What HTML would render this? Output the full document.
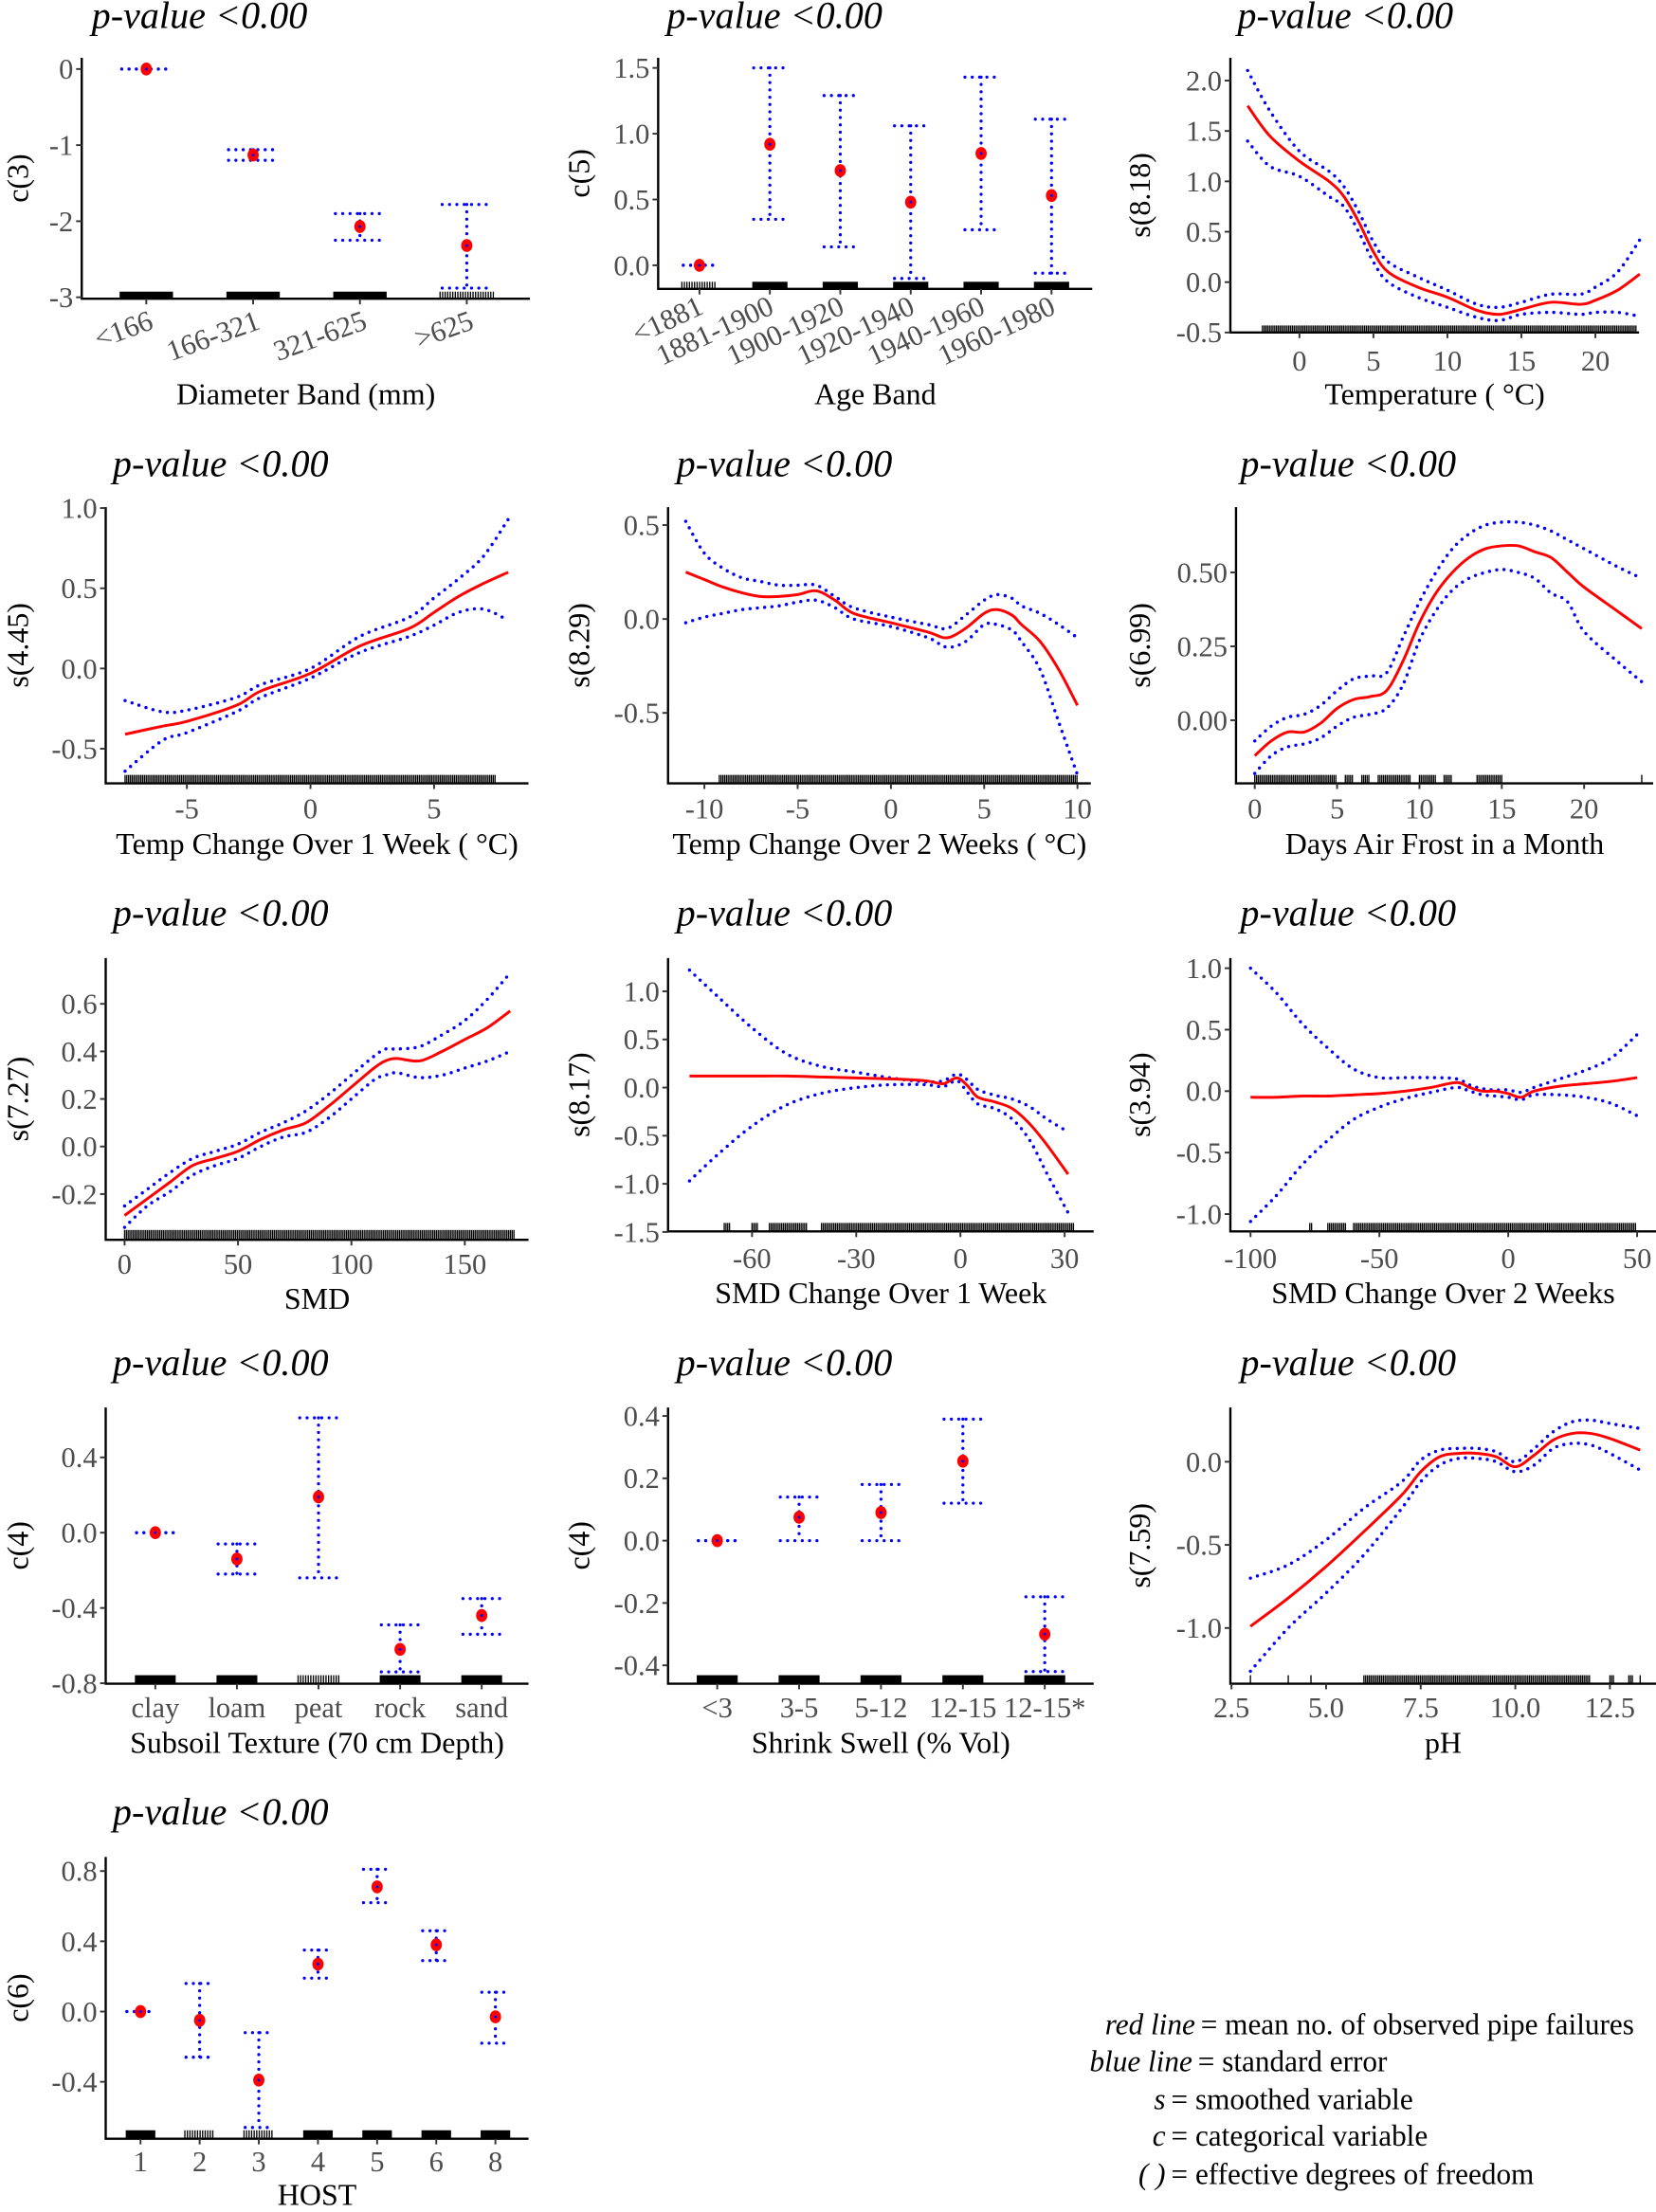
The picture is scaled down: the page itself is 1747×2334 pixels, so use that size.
<!DOCTYPE html>
<html><head><meta charset="utf-8"><style>
html,body{margin:0;padding:0;background:#fff}
svg{display:block}
svg text{font-family:"Liberation Serif","Times New Roman",serif}
</style></head>
<body>
<svg id="fig" xmlns="http://www.w3.org/2000/svg" width="1747" height="2334" viewBox="0 0 1175 1570" preserveAspectRatio="none" font-family="Liberation Serif, serif">
<g id="legend" font-size="21" fill="#000">
<text x="848" y="1444" text-anchor="end" font-style="italic">red line</text><text x="852" y="1444">= mean no. of observed pipe failures</text>
<text x="846" y="1470" text-anchor="end" font-style="italic">blue line</text><text x="850" y="1470">= standard error</text>
<text x="827" y="1497" text-anchor="end" font-style="italic">s</text><text x="831" y="1497">= smoothed variable</text>
<text x="827" y="1523" text-anchor="end" font-style="italic">c</text><text x="831" y="1523">= categorical variable</text>
<text x="827" y="1550" text-anchor="end" font-style="italic">( )</text><text x="831" y="1550">= effective degrees of freedom</text>
</g>
</svg>
<script>
// ---------- DATA ----------
const diamCats = ["<166","166-321","321-625",">625"];
const diamMean = [0,-1.13,-2.07,-2.32];
const diamUpper = [0,-1.06,-1.9,-1.78];
const diamLower = [0,-1.2,-2.25,-2.88];
const diamRug = ["block","block","block","lines"];

const ageCats = ["<1881","1881-1900","1900-1920","1920-1940","1940-1960","1960-1980"];
const ageMean = [0,0.92,0.72,0.48,0.85,0.53];
const ageUpper = [0,1.5,1.29,1.06,1.43,1.11];
const ageLower = [0,0.35,0.14,-0.1,0.27,-0.06];
const ageRug = ["lines","block","block","block","block","block"];

const tempX = [-3.5,-2,0,2,3,4,5,6,8,10,12,13.5,15,17,19,20,21.5,23];
const tempMean = [1.75,1.45,1.2,1.0,0.85,0.6,0.3,0.1,-0.05,-0.15,-0.28,-0.32,-0.27,-0.2,-0.22,-0.18,-0.08,0.08];
const tempUpper = [2.1,1.7,1.3,1.1,0.95,0.7,0.4,0.2,0.05,-0.08,-0.22,-0.25,-0.2,-0.12,-0.12,-0.05,0.1,0.42];
const tempLower = [1.4,1.15,1.05,0.85,0.75,0.5,0.2,0.0,-0.15,-0.25,-0.35,-0.38,-0.32,-0.3,-0.32,-0.3,-0.3,-0.34];
const tempRug = [[-2.5,22.8]];

const tc1X = [-7.5,-6,-5,-3,-2,0,2,4,5,6,7,8];
const tc1Mean = [-0.41,-0.36,-0.33,-0.23,-0.14,-0.03,0.14,0.25,0.35,0.45,0.53,0.6];
const tc1Upper = [-0.2,-0.27,-0.26,-0.18,-0.1,0.0,0.2,0.32,0.44,0.56,0.7,0.93];
const tc1Lower = [-0.64,-0.45,-0.4,-0.27,-0.18,-0.06,0.1,0.2,0.27,0.35,0.37,0.3];
const tc1Rug = [[-7.5,7.5]];

const tc2X = [-11,-10,-9,-8,-7,-6,-5,-4,-3,-2,0,2,3,4,5,5.7,6.5,7,8,9,10];
const tc2Mean = [0.25,0.21,0.17,0.14,0.12,0.12,0.13,0.15,0.1,0.03,-0.02,-0.07,-0.1,-0.05,0.03,0.05,0.02,-0.03,-0.12,-0.27,-0.46];
const tc2Upper = [0.52,0.35,0.27,0.22,0.2,0.18,0.18,0.18,0.12,0.06,0.01,-0.03,-0.05,0.02,0.1,0.13,0.11,0.07,0.03,-0.03,-0.1];
const tc2Lower = [-0.02,0.01,0.03,0.05,0.06,0.07,0.09,0.1,0.06,0.0,-0.04,-0.1,-0.15,-0.12,-0.03,-0.03,-0.06,-0.12,-0.27,-0.55,-0.83];
const tc2Rug = [[-9.2,10]];

const frostX = [0,1,2,3,4,5,6,7,8,9,10,11,12,13,14,15,16,17,18,19,20,22,23.5];
const frostMean = [-0.12,-0.07,-0.04,-0.04,-0.01,0.04,0.07,0.08,0.1,0.2,0.33,0.43,0.5,0.55,0.58,0.59,0.59,0.57,0.55,0.5,0.45,0.37,0.31];
const frostUpper = [-0.07,-0.02,0.01,0.02,0.05,0.1,0.14,0.15,0.16,0.28,0.4,0.5,0.58,0.63,0.66,0.67,0.67,0.66,0.64,0.61,0.58,0.52,0.48];
const frostLower = [-0.18,-0.12,-0.09,-0.08,-0.06,-0.02,0.01,0.02,0.04,0.12,0.27,0.37,0.44,0.48,0.5,0.51,0.5,0.48,0.43,0.4,0.3,0.2,0.13];
const frostRug = [[0,5],[5.5,6],[6.5,7],[7.5,9.5],[10,11],[11.5,12],[13.5,15],[23.5,23.5]];

const smdX = [0,10,20,30,40,50,60,70,80,90,100,110,115,120,130,140,150,160,170];
const smdMean = [-0.29,-0.22,-0.15,-0.08,-0.05,-0.02,0.03,0.07,0.1,0.17,0.25,0.33,0.36,0.37,0.36,0.4,0.45,0.5,0.57];
const smdUpper = [-0.25,-0.18,-0.11,-0.05,-0.02,0.01,0.06,0.1,0.15,0.22,0.3,0.38,0.41,0.41,0.42,0.47,0.53,0.62,0.73];
const smdLower = [-0.34,-0.25,-0.19,-0.12,-0.08,-0.05,0.0,0.04,0.06,0.12,0.2,0.28,0.3,0.31,0.29,0.3,0.33,0.36,0.4];
const smdRug = [[0,172]];

const sc1X = [-78,-70,-60,-50,-40,-30,-20,-10,-5,-1,2,5,10,15,20,25,31];
const sc1Mean = [0.12,0.12,0.12,0.12,0.11,0.1,0.09,0.07,0.04,0.1,0.02,-0.1,-0.15,-0.22,-0.38,-0.6,-0.9];
const sc1Upper = [1.22,0.95,0.62,0.35,0.22,0.16,0.1,0.06,0.07,0.14,0.08,-0.02,-0.08,-0.12,-0.2,-0.33,-0.46];
const sc1Lower = [-0.97,-0.7,-0.4,-0.18,-0.06,0.0,0.03,0.03,0.01,0.07,-0.05,-0.17,-0.22,-0.33,-0.55,-0.9,-1.3];
const sc1Rug = [[-68,-66],[-60,-58],[-55,-44],[-40,33]];

const sc2X = [-100,-90,-80,-70,-60,-50,-40,-30,-20,-15,-10,-5,0,5,10,20,30,40,50];
const sc2Mean = [-0.05,-0.05,-0.04,-0.04,-0.03,-0.02,0.0,0.03,0.07,0.03,0.0,0.0,-0.02,-0.05,0.0,0.04,0.06,0.08,0.11];
const sc2Upper = [1.0,0.8,0.55,0.35,0.18,0.11,0.11,0.11,0.1,0.05,0.02,0.01,0.01,-0.01,0.03,0.1,0.17,0.27,0.46];
const sc2Lower = [-1.06,-0.85,-0.6,-0.4,-0.23,-0.13,-0.06,-0.01,0.03,0.0,-0.03,-0.04,-0.05,-0.07,-0.03,-0.03,-0.05,-0.1,-0.2];
const sc2Rug = [[-77,-76],[-70,-63],[-60,50]];

const soilCats = ["clay","loam","peat","rock","sand"];
const soilMean = [0,-0.14,0.19,-0.62,-0.44];
const soilUpper = [0,-0.06,0.61,-0.49,-0.35];
const soilLower = [0,-0.22,-0.24,-0.74,-0.54];
const soilRug = ["block","block","lines","block","block"];

const swellCats = ["<3","3-5","5-12","12-15","12-15*"];
const swellMean = [0,0.075,0.09,0.255,-0.3];
const swellUpper = [0,0.14,0.18,0.39,-0.18];
const swellLower = [0,0,0,0.12,-0.42];
const swellRug = ["block","block","block","block","block"];

const phX = [3,4,5,6,7,7.5,8,8.5,9,9.5,10,10.5,11,11.5,12,12.5,13.3];
const phMean = [-0.99,-0.82,-0.63,-0.42,-0.2,-0.06,0.03,0.05,0.05,0.03,-0.03,0.04,0.13,0.17,0.17,0.14,0.07];
const phUpper = [-0.7,-0.62,-0.47,-0.28,-0.12,0.01,0.07,0.08,0.08,0.06,0.0,0.08,0.18,0.24,0.25,0.23,0.2];
const phLower = [-1.26,-1.0,-0.79,-0.56,-0.28,-0.12,-0.02,0.02,0.02,0.0,-0.06,-0.02,0.08,0.11,0.1,0.05,-0.05];
const phRug = [[3,3],[4,4],[4.6,4.6],[6,12],[12.5,12.6],[13,13.1],[13.3,13.3]];

const hostCats = ["1","2","3","4","5","6","8"];
const hostMean = [0,-0.05,-0.39,0.27,0.71,0.38,-0.03];
const hostUpper = [0,0.16,-0.12,0.35,0.81,0.46,0.11];
const hostLower = [0,-0.26,-0.66,0.19,0.62,0.29,-0.18];
const hostRug = ["block","lines","lines","block","block","block","block"];

// tick labels
const t1Y=[0,-1,-2,-3], t2Y=[0.0,0.5,1.0,1.5], t3Y=[-0.5,0.0,0.5,1.0,1.5,2.0], t3X=[0,5,10,15,20];
const t4Y=[-0.5,0.0,0.5,1.0], t4X=[-5,0,5];
const t5Y=[-0.5,0.0,0.5], t5X=[-10,-5,0,5,10];
const t6Y=[0.00,0.25,0.50], t6X=[0,5,10,15,20];
const t7Y=[-0.2,0.0,0.2,0.4,0.6], t7X=[0,50,100,150];
const t8Y=[-1.5,-1.0,-0.5,0.0,0.5,1.0], t8X=[-60,-30,0,30];
const t9Y=[-1.0,-0.5,0.0,0.5,1.0], t9X=[-100,-50,0,50];
const t10Y=[-0.8,-0.4,0.0,0.4], t11Y=[-0.4,-0.2,0.0,0.2,0.4];
const t12Y=[-1.0,-0.5,0.0], t12X=[2.5,5.0,7.5,10.0,12.5];
const t13Y=[-0.4,0.0,0.4,0.8];

// ---------- LAYOUT ----------
const panels = [
 {id:"diameter",type:"cat",x0:58,x1:376,yTop:41,yBot:212,ys:[0,49,-3,211],c0:103.8,step:75.8,cats:diamCats,m:diamMean,u:diamUpper,l:diamLower,rug:diamRug,yt:t1Y,dec:0,rot:-20,title:[65,20],xl:"Diameter Band (mm)",xly:287,yl:"c(3)",ylx:20,rugH:5},
 {id:"age",type:"cat",x0:467,x1:775,yTop:41,yBot:205,ys:[1.5,48.2,0,188.3],c0:496.3,step:49.96,cats:ageCats,m:ageMean,u:ageUpper,l:ageLower,rug:ageRug,yt:t2Y,dec:1,rot:-25,title:[473,20],xl:"Age Band",xly:287,yl:"c(5)",ylx:418,rugH:5},
 {id:"temperature",type:"cont",x0:873,x1:1163,yTop:41,yBot:236,ys:[2,57.2,-0.5,236],xs:[0,922,20,1132],x:tempX,m:tempMean,u:tempUpper,l:tempLower,rug:tempRug,yt:t3Y,xt:t3X,dec:1,xdec:0,xty:263,title:[878,20],xl:"Temperature ( °C)",xly:287,yl:"s(8.18)",ylx:816,rugH:5},
 {id:"temp-change-1wk",type:"cont",x0:75,x1:375,yTop:360,yBot:556,ys:[1,360.6,-0.5,531.4],xs:[-5,132.6,5,308],x:tc1X,m:tc1Mean,u:tc1Upper,l:tc1Lower,rug:tc1Rug,yt:t4Y,xt:t4X,dec:1,xdec:0,xty:581,title:[80,338],xl:"Temp Change Over 1 Week ( °C)",xly:606,yl:"s(4.45)",ylx:20,rugH:6},
 {id:"temp-change-2wk",type:"cont",x0:474,x1:774,yTop:360,yBot:556,ys:[0.5,372.7,-0.5,506],xs:[-10,499.8,10,764.5],x:tc2X,m:tc2Mean,u:tc2Upper,l:tc2Lower,rug:tc2Rug,yt:t5Y,xt:t5X,dec:1,xdec:0,xty:581,title:[480,338],xl:"Temp Change Over 2 Weeks ( °C)",xly:606,yl:"s(8.29)",ylx:418,rugH:6},
 {id:"air-frost",type:"cont",x0:877,x1:1173,yTop:360,yBot:556,ys:[0.5,406.3,0,511.2],xs:[0,890.3,20,1124],x:frostX,m:frostMean,u:frostUpper,l:frostLower,rug:frostRug,yt:t6Y,xt:t6X,dec:2,xdec:0,xty:581,title:[880,338],xl:"Days Air Frost in a Month",xly:606,yl:"s(6.99)",ylx:816,rugH:6},
 {id:"smd",type:"cont",x0:75,x1:375,yTop:680,yBot:880,ys:[0.6,712.5,-0.2,847.5],xs:[0,88.4,150,329.8],x:smdX,m:smdMean,u:smdUpper,l:smdLower,rug:smdRug,yt:t7Y,xt:t7X,dec:1,xdec:0,xty:904,title:[80,657],xl:"SMD",xly:929,yl:"s(7.27)",ylx:20,rugH:7},
 {id:"smd-change-1wk",type:"cont",x0:474,x1:776,yTop:680,yBot:874,ys:[1,703.6,-1.5,874.4],xs:[-60,533.6,30,755.4],x:sc1X,m:sc1Mean,u:sc1Upper,l:sc1Lower,rug:sc1Rug,yt:t8Y,xt:t8X,dec:1,xdec:0,xty:900,title:[480,657],xl:"SMD Change Over 1 Week",xly:925,yl:"s(8.17)",ylx:418,rugH:6},
 {id:"smd-change-2wk",type:"cont",x0:873,x1:1175,yTop:680,yBot:874,ys:[1,687.2,-1,861.7],xs:[-100,887.3,50,1161.6],x:sc2X,m:sc2Mean,u:sc2Upper,l:sc2Lower,rug:sc2Rug,yt:t9Y,xt:t9X,dec:1,xdec:0,xty:900,title:[880,657],xl:"SMD Change Over 2 Weeks",xly:925,yl:"s(3.94)",ylx:816,rugH:6},
 {id:"subsoil",type:"cat",x0:75,x1:375,yTop:999,yBot:1195,ys:[0.4,1034.4,-0.8,1194.7],c0:110.2,step:57.9,cats:soilCats,m:soilMean,u:soilUpper,l:soilLower,rug:soilRug,yt:t10Y,dec:1,rot:0,xty:1219,title:[80,976],xl:"Subsoil Texture (70 cm Depth)",xly:1244,yl:"c(4)",ylx:20,rugH:6},
 {id:"shrink-swell",type:"cat",x0:474,x1:776,yTop:999,yBot:1195,ys:[0.4,1005,-0.4,1182],c0:508.9,step:58.1,cats:swellCats,m:swellMean,u:swellUpper,l:swellLower,rug:swellRug,yt:t11Y,dec:1,rot:0,xty:1219,title:[480,976],xl:"Shrink Swell (% Vol)",xly:1244,yl:"c(4)",ylx:418,rugH:6},
 {id:"ph",type:"cont",x0:873,x1:1175,yTop:999,yBot:1195,ys:[0,1037.5,-1,1155.5],xs:[2.5,873.8,12.5,1142.3],x:phX,m:phMean,u:phUpper,l:phLower,rug:phRug,yt:t12Y,xt:t12X,dec:1,xdec:1,xty:1219,title:[880,976],xl:"pH",xly:1244,yl:"s(7.59)",ylx:816,rugH:6},
 {id:"host",type:"cat",x0:75,x1:375,yTop:1318,yBot:1518,ys:[0.8,1328,-0.4,1477.6],c0:99.7,step:41.97,cats:hostCats,m:hostMean,u:hostUpper,l:hostLower,rug:hostRug,yt:t13Y,dec:1,rot:0,xty:1541,title:[80,1295],xl:"HOST",xly:1565,yl:"c(6)",ylx:20,rugH:6}
];

const NS="http://www.w3.org/2000/svg";
const svg=document.getElementById('fig');
function mk(tag,attrs,parent){const e=document.createElementNS(NS,tag);for(const k in attrs)e.setAttribute(k,attrs[k]);parent.appendChild(e);return e;}
function lin(s){return v=>s[1]+(v-s[0])*(s[3]-s[1])/(s[2]-s[0]);}
function smoothPath(pts){
  let d="M"+pts[0][0].toFixed(2)+","+pts[0][1].toFixed(2);
  for(let i=0;i<pts.length-1;i++){
    const p0=pts[Math.max(0,i-1)],p1=pts[i],p2=pts[i+1],p3=pts[Math.min(pts.length-1,i+2)];
    const c1=[p1[0]+(p2[0]-p0[0])/6,p1[1]+(p2[1]-p0[1])/6];
    const c2=[p2[0]-(p3[0]-p1[0])/6,p2[1]-(p3[1]-p1[1])/6];
    d+=" C"+c1[0].toFixed(2)+","+c1[1].toFixed(2)+" "+c2[0].toFixed(2)+","+c2[1].toFixed(2)+" "+p2[0].toFixed(2)+","+p2[1].toFixed(2);
  }
  return d;
}
const BLUE="#0000ff", RED="#ff0000", DOT="0 5.2";
const FF="Liberation Serif, serif";

panels.forEach(P=>{
  const g=mk('g',{'font-family':FF},svg);
  
  
  const Y=lin(P.ys);
  const catX=i=>P.c0+i*P.step;
  const X=P.type==="cont"?lin(P.xs):null;

  const title=mk('text',{x:P.title[0],y:P.title[1],'font-size':27,'font-style':'italic',fill:'#000'},g);
  
  
  title.textContent="p-value <0.00";

  // rug
  const rugG=mk('g',{fill:'#000',stroke:'#000','stroke-width':0.9},g);
  
  
  if(P.type==="cat"){
    P.cats.forEach((c,i)=>{
      const cx=catX(i),hw=P.step*0.25;
      if(P.rug[i]==="block"){
        const r=mk('rect',{x:cx-hw,y:P.yBot-P.rugH,width:2*hw,height:P.rugH,stroke:'none'},rugG);
        
        
      } else {
        for(let k=-hw;k<=hw;k+=1.8){
          const ln=mk('line',{x1:cx+k,x2:cx+k,y1:P.yBot-P.rugH,y2:P.yBot},rugG);
          
          
        }
      }
    });
  } else {
    P.rug.forEach(r=>{
      const a=X(r[0]),b=X(r[1]);
      for(let k=a;k<=b+0.01;k+=1.25){
        const ln=mk('line',{x1:k,x2:k,y1:P.yBot-P.rugH,y2:P.yBot},rugG);
        
        
      }
    });
  }

  // axes
  const ax=mk('path',{d:`M${P.x0},${P.yTop} V${P.yBot} H${P.x1}`,fill:'none',stroke:'#000','stroke-width':1.6},g);
  
  

  // y ticks
  P.yt.forEach(v=>{
    const y=Y(v);
    const t=mk('line',{x1:P.x0-4,x2:P.x0,y1:y,y2:y,stroke:'#333','stroke-width':1.3},g);
    
    
    const tx=mk('text',{x:P.x0-6,y:y+7,'font-size':20.5,'text-anchor':'end',fill:'#4d4d4d'},g);
    
    
    tx.textContent=v.toFixed(P.dec);
  });

  // x ticks
  if(P.type==="cat"){
    P.cats.forEach((c,i)=>{
      const x=catX(i);
      const t=mk('line',{x1:x,x2:x,y1:P.yBot,y2:P.yBot+4,stroke:'#333','stroke-width':1.3},g);
      
      
      let tx;
      if(P.rot){
        const ly=P.id==="diameter"?233:222;
        const lx=x+(P.id==="diameter"?6:4);
        tx=mk('text',{x:lx,y:ly,'font-size':20.5,'text-anchor':'end',fill:'#4d4d4d',transform:`rotate(${P.rot} ${lx} ${ly})`},g);
      } else {
        tx=mk('text',{x:x,y:P.xty,'font-size':20.5,'text-anchor':'middle',fill:'#4d4d4d'},g);
      }
      
      
      tx.textContent=c;
    });
  } else {
    P.xt.forEach(v=>{
      const x=X(v);
      const t=mk('line',{x1:x,x2:x,y1:P.yBot,y2:P.yBot+4,stroke:'#333','stroke-width':1.3},g);
      
      
      const tx=mk('text',{x:x,y:P.xty,'font-size':20.5,'text-anchor':'middle',fill:'#4d4d4d'},g);
      
      
      tx.textContent=v.toFixed(P.xdec);
    });
  }

  // axis titles
  const xl=mk('text',{x:(P.x0+P.x1)/2,y:P.xly,'font-size':21.5,'text-anchor':'middle',fill:'#000'},g);
  
  
  xl.textContent=P.xl;
  const cy=(P.yTop+P.yBot)/2;
  const yl=mk('text',{x:P.ylx,y:cy,'font-size':21.5,'text-anchor':'middle',fill:'#000',transform:`rotate(-90 ${P.ylx} ${cy})`},g);
  
  
  yl.textContent=P.yl;

  // marks
  if(P.type==="cat"){
    P.cats.forEach((c,i)=>{
      const x=catX(i),hw=P.step*0.23;
      const eg=mk('g',{stroke:BLUE,'stroke-width':2.2,'stroke-linecap':'round','stroke-dasharray':DOT,fill:'none'},g);
      
      
      const capU=mk('line',{x1:x-hw,x2:x+hw,y1:Y(P.u[i]),y2:Y(P.u[i])},eg);
      
      
      const capL=mk('line',{x1:x-hw,x2:x+hw,y1:Y(P.l[i]),y2:Y(P.l[i])},eg);
      
      
      const st=mk('line',{x1:x,x2:x,y1:Y(P.u[i]),y2:Y(P.l[i])},eg);
      
      
      const pt=mk('ellipse',{cx:x,cy:Y(P.m[i]),rx:4,ry:4.6,fill:RED},g);
      
      
      const pc=mk('circle',{cx:x,cy:Y(P.m[i]),r:1,fill:BLUE},g);
      
      
    });
  } else {
    const toPts=arr=>P.x.map((v,i)=>[X(v),Y(arr[i])]);
    const up=mk('path',{d:smoothPath(toPts(P.u)),fill:'none',stroke:BLUE,'stroke-width':2.3,'stroke-linecap':'round','stroke-dasharray':DOT},g);
    
    
    const lo=mk('path',{d:smoothPath(toPts(P.l)),fill:'none',stroke:BLUE,'stroke-width':2.3,'stroke-linecap':'round','stroke-dasharray':DOT},g);
    
    
    const mn=mk('path',{d:smoothPath(toPts(P.m)),fill:'none',stroke:RED,'stroke-width':2},g);
    
    
  }
});
</script>
</body></html>
